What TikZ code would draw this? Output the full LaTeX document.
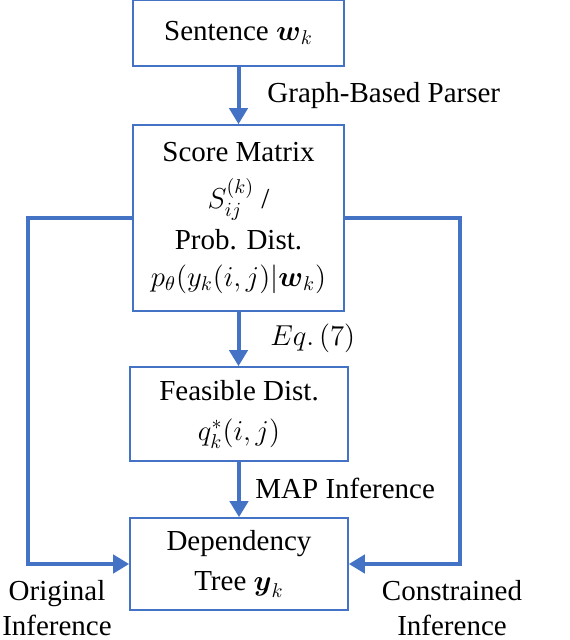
\documentclass[tikz,border=0pt]{standalone}
\usepackage{fontspec}
\setmainfont{Liberation Serif}
\usepackage{amsmath}
\usetikzlibrary{arrows.meta}
\definecolor{flowblue}{RGB}{68,114,196}
\tikzset{>={Triangle[length=8pt,width=9pt]}}

\begin{document}
\begin{tikzpicture}[x=0.5pt,y=-0.5pt,
  box/.style={draw=flowblue,line width=0.8pt,align=center,inner sep=0pt},
  flow/.style={->,draw=flowblue,line width=2pt},
  lbl/.style={inner sep=0pt}]
\fontsize{14.5}{17.5}\selectfont
\useasboundingbox (0,0) rectangle (569,640);
% boxes
\node[box,minimum width=105.5pt,minimum height=33pt] (sent) at (238.5,33) {Sentence $\boldsymbol{w}_k$};
\node[box,minimum width=105.5pt,minimum height=93pt] (score) at (238.5,218) {Score Matrix\\[6pt] $S_{ij}^{(k)}$ /\\[3pt] Prob. Dist.\\[1pt] $p_\theta(y_k(i,j)|\boldsymbol{w}_k)$};
\node[box,minimum width=109pt,minimum height=47pt] (feas) at (239,414) {Feasible Dist.\\[2.5pt] $q_k^*(i,j)$};
\node[box,minimum width=109pt,minimum height=46pt] (tree) at (239,564) {Dependency\\[2.5pt] Tree $\boldsymbol{y}_k$};
\coordinate (lcorner) at (28,218);
\coordinate (rcorner) at (460,218);
% connectors
\draw[flow] (sent) -- (score);
\draw[flow] (score.south) -- (score.south |- feas.north);
\draw[flow] (feas.south) -- (feas.south |- tree.north);
\draw[flow] (score.west) -- (score.west -| lcorner) |- (tree.west);
\draw[flow] (score.east) -- (score.east -| rcorner) |- (tree.east);
% labels
\node[lbl,anchor=west] (parser) at (267,96) {Graph-Based Parser};
\node[lbl,anchor=west] (eq) at (270,338) {$Eq.\,(7)$};
\node[lbl,anchor=west] (map) at (255,488) {MAP Inference};
\node[lbl,align=center] (orig) at (57,608) {Original\\ Inference};
\node[lbl,align=center] (cons) at (452,608) {Constrained\\ Inference};
\end{tikzpicture}
\end{document}
